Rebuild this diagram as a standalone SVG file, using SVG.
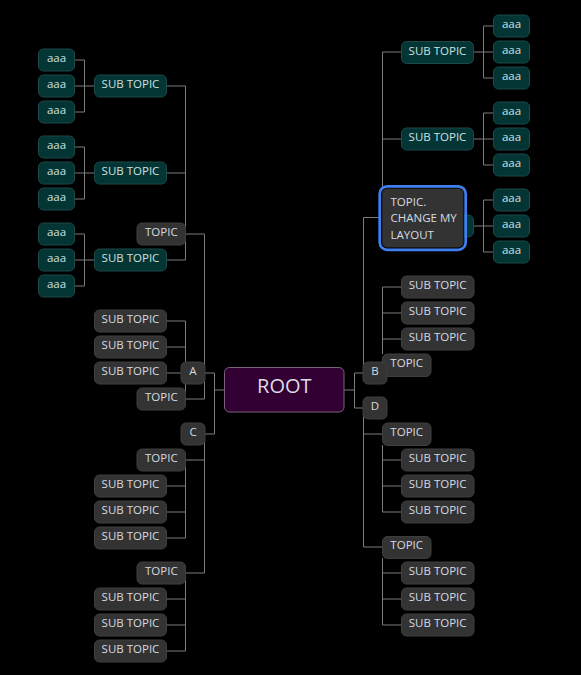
<svg xmlns="http://www.w3.org/2000/svg" width="581" height="675" viewBox="0 0 581 675">
<style>
.bg{fill:#000}
.g rect{fill:#333333;stroke:#3e3e3e;stroke-width:1}
.t rect{fill:#033535;stroke:#1f4848;stroke-width:1}
text{font-family:"Open Sans","Noto Sans",sans-serif;font-size:11.5px;fill:#d6dbe0;text-anchor:middle}
.t text{fill:#cfe0e0}
.root rect{fill:#330033;stroke:#7a627a;stroke-width:1}
.root text{font-size:20px;fill:#dcdce4}
.sel text{text-anchor:start;font-size:11.5px}
#connectors path{fill:none;stroke:#7c7c7c;stroke-width:1}
</style>
<rect class="bg" x="0" y="0" width="581" height="675"/>
<g id="connectors">
<path d="M74.5 60H84.5M74.5 86H94.5M74.5 112H84.5M84.5 60V112"/>
<path d="M74.5 147H84.5M74.5 173H94.5M74.5 199H84.5M84.5 147V199"/>
<path d="M74.5 234H84.5M74.5 260H94.5M74.5 286H84.5M84.5 234V286"/>
<path d="M166.5 86H185.5V260M166.5 173H185.5M166.5 260H185.5"/>
<path d="M185.5 234H204.5V399M185.5 399H204.5"/>
<path d="M166.5 321H185.5V399M166.5 347H185.5M166.5 373H185.5"/>
<path d="M224 390H214.5M214.5 373V434M205 373H214.5M205 434H214.5"/>
<path d="M204.5 434V573M185.5 460H204.5M185.5 573H204.5"/>
<path d="M166.5 486H185.5M166.5 512H185.5M166.5 538H185.5M185.5 460V538"/>
<path d="M166.5 599H185.5M166.5 625H185.5M166.5 651H185.5M185.5 573V651"/>
<path d="M344 390H354.5M354.5 373V408M354.5 373H363M354.5 408H363"/>
<path d="M363.5 217.5V373M363.5 217.5H381"/>
<path d="M382.5 52V188M382.5 52H401.5M382.5 139H401.5"/>
<path d="M473.5 52H483.5M483.5 26V78M483.5 26H493.5M483.5 52H493.5M483.5 78H493.5"/>
<path d="M473.5 139H483.5M483.5 113V165M483.5 113H493.5M483.5 139H493.5M483.5 165H493.5"/>
<path d="M463 226H483.5M483.5 200V252M483.5 200H493.5M483.5 226H493.5M483.5 252H493.5"/>
<path d="M382.5 287V354M382.5 287H401.5M382.5 313H401.5M382.5 339H401.5"/>
<path d="M363.5 408V547M363.5 434H382.5M363.5 547H382.5"/>
<path d="M382.5 445V512M382.5 460H401.5M382.5 486H401.5M382.5 512H401.5"/>
<path d="M382.5 558V625M382.5 573H401.5M382.5 599H401.5M382.5 625H401.5"/>
</g>

<g id="aaa-l1" class="t"><rect x="38.5" y="49" width="36" height="22" rx="5"/><text x="56.5" y="62">aaa</text></g>
<g id="aaa-l2" class="t"><rect x="38.5" y="75" width="36" height="22" rx="5"/><text x="56.5" y="88">aaa</text></g>
<g id="aaa-l3" class="t"><rect x="38.5" y="101" width="36" height="22" rx="5"/><text x="56.5" y="114">aaa</text></g>
<g id="aaa-l4" class="t"><rect x="38.5" y="136" width="36" height="22" rx="5"/><text x="56.5" y="149">aaa</text></g>
<g id="aaa-l5" class="t"><rect x="38.5" y="162" width="36" height="22" rx="5"/><text x="56.5" y="175">aaa</text></g>
<g id="aaa-l6" class="t"><rect x="38.5" y="188" width="36" height="22" rx="5"/><text x="56.5" y="201">aaa</text></g>
<g id="aaa-l7" class="t"><rect x="38.5" y="223" width="36" height="22" rx="5"/><text x="56.5" y="236">aaa</text></g>
<g id="aaa-l8" class="t"><rect x="38.5" y="249" width="36" height="22" rx="5"/><text x="56.5" y="262">aaa</text></g>
<g id="aaa-l9" class="t"><rect x="38.5" y="275" width="36" height="22" rx="5"/><text x="56.5" y="288">aaa</text></g>
<g id="sub-lt1" class="t"><rect x="94.5" y="75" width="72" height="22" rx="5"/><text x="130.5" y="88">SUB TOPIC</text></g>
<g id="sub-lt2" class="t"><rect x="94.5" y="162" width="72" height="22" rx="5"/><text x="130.5" y="175">SUB TOPIC</text></g>
<g id="sub-lt3" class="t"><rect x="94.5" y="249" width="72" height="22" rx="5"/><text x="130.5" y="262">SUB TOPIC</text></g>
<g id="topic-a1" class="g"><rect x="137" y="223" width="48.5" height="22" rx="5"/><text x="161.3" y="236">TOPIC</text></g>
<g id="sub-a1" class="g"><rect x="94.5" y="310" width="72" height="22" rx="5"/><text x="130.5" y="323">SUB TOPIC</text></g>
<g id="sub-a2" class="g"><rect x="94.5" y="336" width="72" height="22" rx="5"/><text x="130.5" y="349">SUB TOPIC</text></g>
<g id="sub-a3" class="g"><rect x="94.5" y="362" width="72" height="22" rx="5"/><text x="130.5" y="375">SUB TOPIC</text></g>
<g id="topic-a2" class="g"><rect x="137" y="388" width="48.5" height="22" rx="5"/><text x="161.3" y="401">TOPIC</text></g>
<g id="node-a" class="g"><rect x="181" y="362" width="24" height="22" rx="5"/><text x="193" y="375">A</text></g>
<g id="node-c" class="g"><rect x="181" y="423" width="24" height="22" rx="5"/><text x="193" y="436">C</text></g>
<g id="topic-c1" class="g"><rect x="137" y="449" width="48.5" height="22" rx="5"/><text x="161.3" y="462">TOPIC</text></g>
<g id="sub-c1" class="g"><rect x="94.5" y="475" width="72" height="22" rx="5"/><text x="130.5" y="488">SUB TOPIC</text></g>
<g id="sub-c2" class="g"><rect x="94.5" y="501" width="72" height="22" rx="5"/><text x="130.5" y="514">SUB TOPIC</text></g>
<g id="sub-c3" class="g"><rect x="94.5" y="527" width="72" height="22" rx="5"/><text x="130.5" y="540">SUB TOPIC</text></g>
<g id="topic-c2" class="g"><rect x="137" y="562" width="48.5" height="22" rx="5"/><text x="161.3" y="575">TOPIC</text></g>
<g id="sub-c4" class="g"><rect x="94.5" y="588" width="72" height="22" rx="5"/><text x="130.5" y="601">SUB TOPIC</text></g>
<g id="sub-c5" class="g"><rect x="94.5" y="614" width="72" height="22" rx="5"/><text x="130.5" y="627">SUB TOPIC</text></g>
<g id="sub-c6" class="g"><rect x="94.5" y="640" width="72" height="22" rx="5"/><text x="130.5" y="653">SUB TOPIC</text></g>
<g id="root" class="root"><rect x="224.5" y="367.5" width="119.5" height="44.5" rx="5"/><text x="284.3" y="392.5">ROOT</text></g>
<g id="sub-rt1" class="t"><rect x="401.5" y="41.5" width="72" height="22" rx="5"/><text x="437.5" y="54.5">SUB TOPIC</text></g>
<g id="sub-rt2" class="t"><rect x="401.5" y="128" width="72" height="22" rx="5"/><text x="437.5" y="141">SUB TOPIC</text></g>
<g id="sub-rt3" class="t"><rect x="401.5" y="215" width="72" height="22" rx="5"/></g>
<g id="aaa-r1" class="t"><rect x="493.5" y="15" width="36" height="22" rx="5"/><text x="511.5" y="28">aaa</text></g>
<g id="aaa-r2" class="t"><rect x="493.5" y="41" width="36" height="22" rx="5"/><text x="511.5" y="54">aaa</text></g>
<g id="aaa-r3" class="t"><rect x="493.5" y="67" width="36" height="22" rx="5"/><text x="511.5" y="80">aaa</text></g>
<g id="aaa-r4" class="t"><rect x="493.5" y="102" width="36" height="22" rx="5"/><text x="511.5" y="115">aaa</text></g>
<g id="aaa-r5" class="t"><rect x="493.5" y="128" width="36" height="22" rx="5"/><text x="511.5" y="141">aaa</text></g>
<g id="aaa-r6" class="t"><rect x="493.5" y="154" width="36" height="22" rx="5"/><text x="511.5" y="167">aaa</text></g>
<g id="aaa-r7" class="t"><rect x="493.5" y="189" width="36" height="22" rx="5"/><text x="511.5" y="202">aaa</text></g>
<g id="aaa-r8" class="t"><rect x="493.5" y="215" width="36" height="22" rx="5"/><text x="511.5" y="228">aaa</text></g>
<g id="aaa-r9" class="t"><rect x="493.5" y="241" width="36" height="22" rx="5"/><text x="511.5" y="254">aaa</text></g>
<g id="topic-selected" class="g sel">
<rect x="382" y="188.5" width="81.5" height="59" rx="5" style="stroke:#151515"/>
<rect x="379.7" y="186.3" width="86" height="63.5" rx="7.5" style="fill:none;stroke:#3f7ff2;stroke-width:2.7"/>
<text x="390.5" y="205.5">TOPIC.</text>
<text x="390.5" y="222">CHANGE MY</text>
<text x="390.5" y="238.5">LAYOUT</text>
</g>
<g id="sub-b1" class="g"><rect x="401.5" y="276" width="72.5" height="22" rx="5"/><text x="437.7" y="289">SUB TOPIC</text></g>
<g id="sub-b2" class="g"><rect x="401.5" y="302" width="72.5" height="22" rx="5"/><text x="437.7" y="315">SUB TOPIC</text></g>
<g id="sub-b3" class="g"><rect x="401.5" y="328" width="72.5" height="22" rx="5"/><text x="437.7" y="341">SUB TOPIC</text></g>
<g id="topic-b" class="g"><rect x="382.5" y="354" width="48.5" height="22.5" rx="5"/><text x="406.7" y="367">TOPIC</text></g>
<g id="node-b" class="g"><rect x="363" y="362" width="24" height="22" rx="5"/><text x="375" y="375">B</text></g>
<g id="node-d" class="g"><rect x="363" y="397" width="24" height="22" rx="5"/><text x="375" y="410">D</text></g>
<g id="topic-d1" class="g"><rect x="382.5" y="423" width="48.5" height="22.5" rx="5"/><text x="406.7" y="436">TOPIC</text></g>
<g id="sub-d1" class="g"><rect x="401.5" y="449" width="72.5" height="22" rx="5"/><text x="437.7" y="462">SUB TOPIC</text></g>
<g id="sub-d2" class="g"><rect x="401.5" y="475" width="72.5" height="22" rx="5"/><text x="437.7" y="488">SUB TOPIC</text></g>
<g id="sub-d3" class="g"><rect x="401.5" y="501" width="72.5" height="22" rx="5"/><text x="437.7" y="514">SUB TOPIC</text></g>
<g id="topic-d2" class="g"><rect x="382.5" y="536.5" width="48.5" height="22" rx="5"/><text x="406.7" y="549">TOPIC</text></g>
<g id="sub-d4" class="g"><rect x="401.5" y="562" width="72.5" height="22" rx="5"/><text x="437.7" y="575">SUB TOPIC</text></g>
<g id="sub-d5" class="g"><rect x="401.5" y="588" width="72.5" height="22" rx="5"/><text x="437.7" y="601">SUB TOPIC</text></g>
<g id="sub-d6" class="g"><rect x="401.5" y="614" width="72.5" height="22" rx="5"/><text x="437.7" y="627">SUB TOPIC</text></g>
</svg>
